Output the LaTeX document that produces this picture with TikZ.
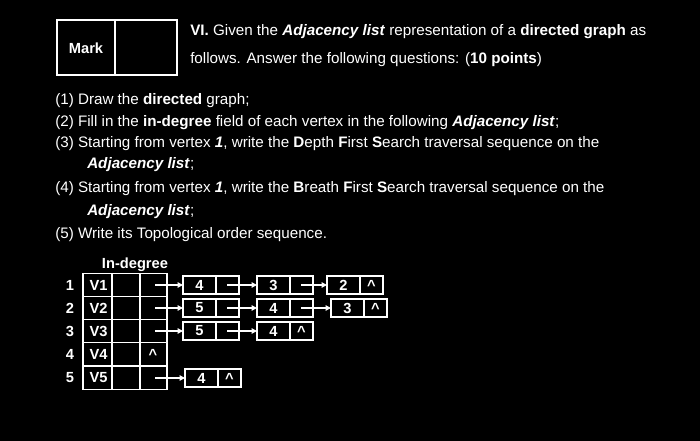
\documentclass[tikz,border=0pt]{standalone}
\usepackage{fontspec}
\setmainfont{Liberation Sans}
\usetikzlibrary{arrows.meta}
\begin{document}
\begin{tikzpicture}[x=0.75pt,y=-0.75pt,every node/.style={text=white,font=\fontsize{11.4}{13}\selectfont},
 cell/.style={draw=white,line width=1pt},
 lnk/.style={draw=white,line width=0.9pt,-{Triangle[length=4pt,width=4pt]}},
 txt/.style={anchor=west,inner sep=0},
 bf/.style={font=\fontsize{11}{13}\selectfont\bfseries}]
\fill[black] (0,0) rectangle (700,441);
\useasboundingbox (0,0) rectangle (700,441);
% Mark box
\draw[cell] (57,20) rectangle (177,75) (115,20) -- (115,75);
\node[bf] (mark) at (86,48) {Mark};
\node[txt] (t1) at (190,32) {\textbf{VI.} Given the \textbf{\textit{Adjacency list}} representation of a \textbf{directed graph} as};
\node[txt] (t2) at (190,60) {follows. Answer the following questions: (\textbf{10 points})};
\node[txt] (q1) at (55,101) {(1) Draw the \textbf{directed} graph;};
\node[txt] (q2) at (55,123) {(2) Fill in the \textbf{in-degree} field of each vertex in the following \textbf{\textit{Adjacency list}};};
\node[txt] (q3) at (55,144) {(3) Starting from vertex \textbf{\textit{1}}, write the \textbf{D}epth \textbf{F}irst \textbf{S}earch traversal sequence on the};
\node[txt] (q3b) at (87,165) {\textbf{\textit{Adjacency list}};};
\node[txt] (q4) at (55,189) {(4) Starting from vertex \textbf{\textit{1}}, write the \textbf{B}reath \textbf{F}irst \textbf{S}earch traversal sequence on the};
\node[txt] (q4b) at (87,212) {\textbf{\textit{Adjacency list}};};
\node[txt] (q5) at (55,235) {(5) Write its Topological order sequence.};
% table
\node[bf] (indeg) at (135,265) {In-degree};
\foreach \i/\y in {1/285,2/308,3/331,4/354,5/378}{
  \draw[cell] (83,\y-11.5) rectangle (167,\y+11.5) (112,\y-11.5)--(112,\y+11.5) (140,\y-11.5)--(140,\y+11.5);
  \node[bf] (n\i) at (70,\y) {\i};
  \node[bf,anchor=west] (v\i) at (85,\y) {V\i};
  \coordinate (p\i) at (155,\y);
}
\node[bf] (nil4) at (153,354) {\^{}};
\newcommand\mknode[5]{%
  \draw[cell] (#2,#3-9) rectangle (#2+56,#3+9) (#2+33,#3-9)--(#2+33,#3+9);
  \node[bf] (#1) at (#2+16.5,#3) {#4};
  \coordinate (#1in) at (#2,#3);
  \coordinate (#1p) at (#2+44,#3);
  \ifx#5y\node[bf] at (#2+44.5,#3) {\^{}};\fi
}
\mknode{a1}{183}{285}{4}{n}\mknode{a2}{257}{285}{3}{n}\mknode{a3}{327}{285}{2}{y}
\draw[lnk] (p1) -- (a1in); \draw[lnk] (a1p) -- (a2in); \draw[lnk] (a2p) -- (a3in);
\mknode{b1}{183}{308}{5}{n}\mknode{b2}{257}{308}{4}{n}\mknode{b3}{331}{308}{3}{y}
\draw[lnk] (p2) -- (b1in); \draw[lnk] (b1p) -- (b2in); \draw[lnk] (b2p) -- (b3in);
\mknode{c1}{183}{331}{5}{n}\mknode{c2}{257}{331}{4}{y}
\draw[lnk] (p3) -- (c1in); \draw[lnk] (c1p) -- (c2in);
\mknode{e1}{185}{378}{4}{y}
\draw[lnk] (p5) -- (e1in);
\end{tikzpicture}
\end{document}
